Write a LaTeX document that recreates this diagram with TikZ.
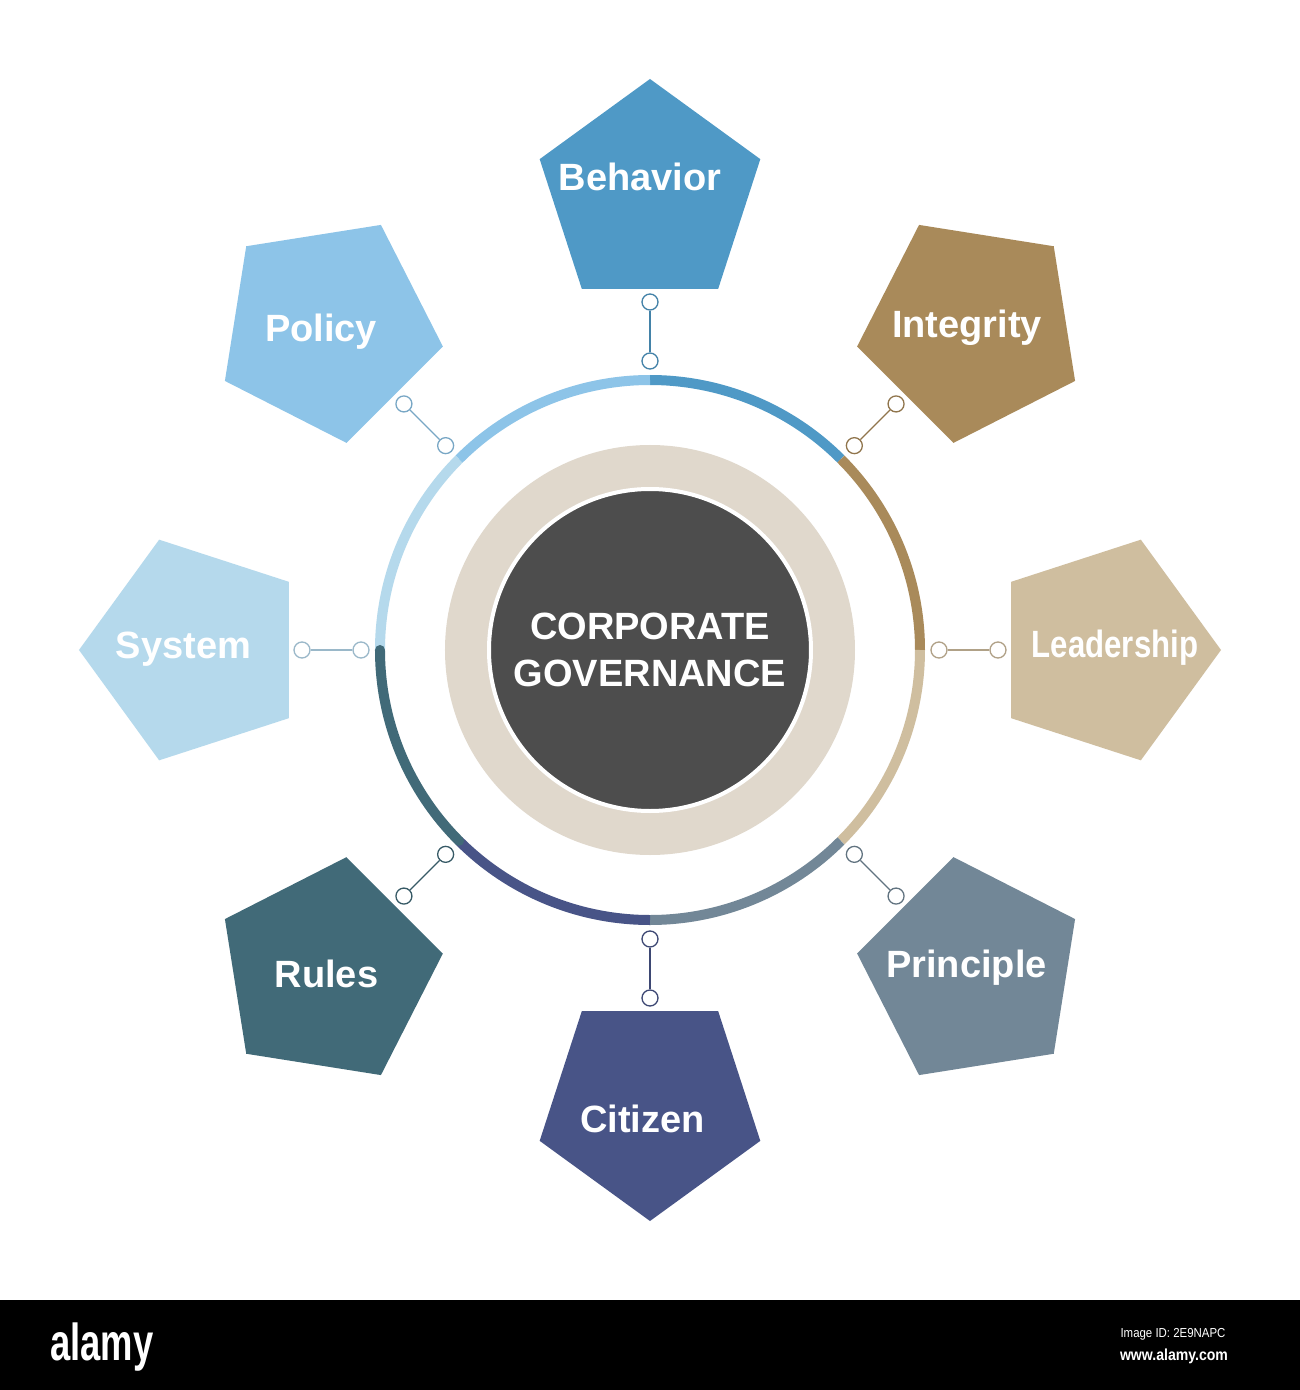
\documentclass[tikz,border=0pt]{standalone}
\usepackage{fontspec}
\setmainfont{Liberation Sans}
\usetikzlibrary{shapes.geometric}

\definecolor{behaviorblue}{HTML}{4F99C6}
\definecolor{integritybrown}{HTML}{A98A5A}
\definecolor{leadershipsand}{HTML}{CFBE9F}
\definecolor{principlegray}{HTML}{728797}
\definecolor{citizennavy}{HTML}{485487}
\definecolor{rulesteal}{HTML}{416A78}
\definecolor{systemsky}{HTML}{B5D9EC}
\definecolor{policyblue}{HTML}{8DC4E8}
\definecolor{ringbeige}{HTML}{E0D8CC}
\definecolor{coregray}{HTML}{4D4D4D}

\begin{document}
\begin{tikzpicture}[x=1pt, y=1pt,
  petal/.style={regular polygon, regular polygon sides=5, minimum size=232pt, inner sep=0pt, fill=#1},
  dot/.style={circle, draw=#1!85!black, fill=white, line width=1.3pt, minimum size=16pt, inner sep=0pt},
  link/.style={draw=#1!85!black, line width=1.3pt},
  word/.style={text=white, font=\fontsize{38}{46}\selectfont\bfseries, anchor=base, inner sep=0pt},
  arcseg/.style={draw=#1, line width=10pt}]
  \useasboundingbox (-650,-740) rectangle (650,650);
  \fill[white] (-650,-650) rectangle (650,650);
  \fill[black] (-650,-740) rectangle (650,-650);

  % Centre
  \fill[ringbeige] (0,0) circle[radius=205pt];
  \node[circle, fill=coregray, draw=white, line width=4pt, minimum size=322pt, inner sep=0pt,
        text=white, align=center, font=\fontsize{38}{47}\selectfont\bfseries] (core) at (0.00,0.00) {CORPORATE\\GOVERNANCE};

  % Draw the ring
  \draw[arcseg=behaviorblue]   (90:270)   arc[start angle=90,   end angle=45,   radius=270pt];
  \draw[arcseg=integritybrown] (45:270)   arc[start angle=45,   end angle=0,    radius=270pt];
  \draw[arcseg=leadershipsand] (0:270)    arc[start angle=0,    end angle=-45,  radius=270pt];
  \draw[arcseg=principlegray]  (-45:270)  arc[start angle=-45,  end angle=-90,  radius=270pt];
  \draw[arcseg=citizennavy]    (-90:270)  arc[start angle=-90,  end angle=-135, radius=270pt];
  \draw[arcseg=systemsky]      (180:270)  arc[start angle=180,  end angle=135,  radius=270pt];
  \draw[arcseg=policyblue]     (135:270)  arc[start angle=135,  end angle=90,   radius=270pt];
  \draw[arcseg=rulesteal, line cap=round] (180:270) arc[start angle=180, end angle=225, radius=270pt];

  % Pentagons
  \node[petal=behaviorblue]                                (behavior)   at (0.00,455.00) {};
  \node[petal=integritybrown, shape border rotate=-45]     (integrity)  at (321.73,321.73) {};
  \node[petal=leadershipsand, shape border rotate=-90]     (leadership) at (455.00,0.00) {};
  \node[petal=principlegray, shape border rotate=-135]     (principle)  at (321.73,-321.73) {};
  \node[petal=citizennavy, shape border rotate=180]        (citizen)    at (0.00,-455.00) {};
  \node[petal=rulesteal, shape border rotate=135]          (rules)      at (-321.73,-321.73) {};
  \node[petal=systemsky, shape border rotate=90]           (system)     at (-455.00,0.00) {};
  \node[petal=policyblue, shape border rotate=45]          (policy)     at (-321.73,321.73) {};

  \node[word] (behavior-text)   at (-10.00,459.00)   {Behavior};
  \node[word] (integrity-text)  at (317.00,312.00)   {Integrity};
  \node[word] (leadership-text) at (465.00,-7.00)    {\scalebox{0.82}[1]{Leadership}};
  \node[word] (principle-text)  at (316.50,-327.00)  {Principle};
  \node[word] (citizen-text)    at (-7.50,-482.00)   {Citizen};
  \node[word] (rules-text)      at (-323.50,-337.00) {Rules};
  \node[word] (system-text)     at (-466.50,-8.00)   {System};
  \node[word] (policy-text)     at (-329.00,308.00)  {Policy};

  % Connectors
  \node[dot=behaviorblue]   (behavior-in)   at (0.00,289.00) {};
  \node[dot=behaviorblue]   (behavior-out)  at (0.00,348.00) {};
  \node[dot=integritybrown] (integrity-in)  at (204.35,204.35) {};
  \node[dot=integritybrown] (integrity-out) at (246.07,246.07) {};
  \node[dot=leadershipsand] (leadership-in) at (289.00,0.00) {};
  \node[dot=leadershipsand] (leadership-out) at (348.00,0.00) {};
  \node[dot=principlegray]  (principle-in)  at (204.35,-204.35) {};
  \node[dot=principlegray]  (principle-out) at (246.07,-246.07) {};
  \node[dot=citizennavy]    (citizen-in)    at (0.00,-289.00) {};
  \node[dot=citizennavy]    (citizen-out)   at (0.00,-348.00) {};
  \node[dot=rulesteal]      (rules-in)      at (-204.35,-204.35) {};
  \node[dot=rulesteal]      (rules-out)     at (-246.07,-246.07) {};
  \node[dot=systemsky]      (system-in)     at (-289.00,0.00) {};
  \node[dot=systemsky]      (system-out)    at (-348.00,0.00) {};
  \node[dot=policyblue]     (policy-in)     at (-204.35,204.35) {};
  \node[dot=policyblue]     (policy-out)    at (-246.07,246.07) {};
  \draw[link=behaviorblue]   (behavior-in) -- (behavior-out);
  \draw[link=integritybrown] (integrity-in) -- (integrity-out);
  \draw[link=leadershipsand] (leadership-in) -- (leadership-out);
  \draw[link=principlegray]  (principle-in) -- (principle-out);
  \draw[link=citizennavy]    (citizen-in) -- (citizen-out);
  \draw[link=rulesteal]      (rules-in) -- (rules-out);
  \draw[link=systemsky]      (system-in) -- (system-out);
  \draw[link=policyblue]     (policy-in) -- (policy-out);

  % Footer
  \node[text=white, anchor=base, inner sep=0pt, font=\fontsize{52}{52}\selectfont\bfseries] (logo) at (-548.00,-710.00) {\scalebox{0.7}[1]{alamy}};
  \node[text=white, anchor=base, inner sep=0pt, font=\fontsize{13}{13}\selectfont] (image-id) at (523.00,-687.00) {\scalebox{0.88}[1]{Image ID: 2E9NAPC}};
  \node[text=white, anchor=base, inner sep=0pt, font=\fontsize{16}{16}\selectfont\bfseries] (site) at (524.00,-710.00) {\scalebox{0.88}[1]{www.alamy.com}};
\end{tikzpicture}
\end{document}
